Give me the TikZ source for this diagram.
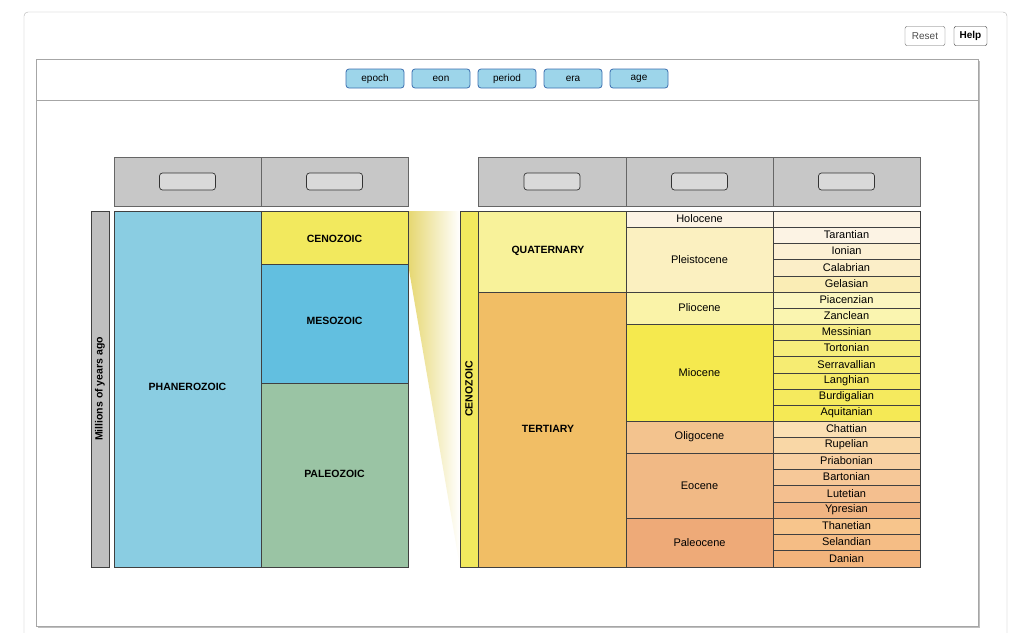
\documentclass[tikz,border=0pt]{standalone}
\usepackage{fontspec}
\setmainfont{Liberation Sans}
\definecolor{btnf}{HTML}{9DD5EA}\definecolor{btnd}{HTML}{3C6FB0}
\definecolor{cen}{HTML}{F2E95E}\definecolor{mes}{HTML}{62BFE0}\definecolor{pal}{HTML}{9AC4A4}\definecolor{pha}{HTML}{8ACDE2}
\definecolor{fun}{HTML}{E6D770}
\begin{document}
\begin{tikzpicture}[x=1pt,y=-1pt,
  cell/.style={draw=black!75,line width=0.8pt},
  lab/.style={font=\fontsize{10.5}{12}\selectfont\bfseries},
  txt/.style={font=\fontsize{11}{12}\selectfont},
  btn/.style={draw=btnd,fill=btnf,line width=0.8pt,rounded corners=3pt,minimum width=58pt,minimum height=19pt,font=\fontsize{10}{12}\selectfont,inner sep=0},
  hdr/.style={draw=black!60,fill=black!22,line width=0.8pt},
  slot/.style={draw=black!80,fill=black!15,line width=0.7pt,rounded corners=3pt,minimum width=56pt,minimum height=17pt,inner sep=0}]
\useasboundingbox (0,0) rectangle (1024,632);
\draw[black!30,rounded corners=4pt] (24,12) rectangle (1007,640);
\fill[black!25] (38,61) rectangle (980,628);
\draw[black!35,fill=white] (36,59) rectangle (978,626);
\draw[black!35] (36,100) -- (978,100);
\node[draw=black!60,rounded corners=2pt,minimum width=40pt,minimum height=19pt,inner sep=0,font=\fontsize{10}{12}\selectfont,text=black!70] (reset) at (925,36) {Reset};
\node[draw=black!80,rounded corners=2pt,minimum width=33pt,minimum height=19pt,inner sep=0,font=\fontsize{10}{12}\selectfont\bfseries] (help) at (970.5,36) {Help};
\node[btn] (b1) at (375,78.5) {epoch};
\node[btn] (b2) at (441,78.5) {eon};
\node[btn] (b3) at (507,78.5) {period};
\node[btn] (b4) at (573,78.5) {era};
\node[btn] (b5) at (639,78.5) {age};
\foreach \a/\b/\n in {114/261/h1,261/408/h2,478/626/h3,626/773/h4,773/920/h5}{
  \draw[hdr] (\a,157) rectangle (\b,206);
  \node[slot] (\n) at ({(\a+\b)/2},181.5) {};
}
\shade[left color=fun,right color=white,shading angle=90] (408,211) -- (460,211) -- (460,567) -- (408,264) -- cycle;
\draw[cell,fill=black!25] (91,211) rectangle (109,567);
\node[lab,rotate=90] (my) at (100,389) {Millions of years ago};
\draw[cell,fill=pha] (114,211) rectangle (261,567);
\node[lab] (ph) at (187.5,387) {PHANEROZOIC};
\draw[cell,fill=cen] (261,211) rectangle (408,264); \node[lab] (ce) at (334.5,239) {CENOZOIC};
\draw[cell,fill=mes] (261,264) rectangle (408,383); \node[lab] (me) at (334.5,321) {MESOZOIC};
\draw[cell,fill=pal] (261,383) rectangle (408,567); \node[lab] (pa) at (334.5,474) {PALEOZOIC};
\draw[cell,fill=cen] (460,211) rectangle (478,567);
\node[lab,rotate=90] (cz) at (469,389) {CENOZOIC};
\draw[cell,fill={rgb,255:red,248;green,242;blue,154}] (478,211) rectangle (626,292); \node[lab] (q) at (548,251) {QUATERNARY};
\draw[cell,fill={rgb,255:red,241;green,190;blue,101}] (478,292) rectangle (626,567); \node[lab] (t) at (548,429) {TERTIARY};
\foreach \t/\b/\c/\n in {211/227/FCF3E4/Holocene,227/292/FBF0C0/Pleistocene,292/324/FAF3A8/Pliocene,324/421/F5E94E/Miocene,421/453/F3C38E/Oligocene,453/518/F1B985/Eocene,518/567/EEAA78/Paleocene}{
  \definecolor{tmp}{HTML}{\c}
  \draw[cell,fill=tmp] (626,\t) rectangle (773,\b);
  \node[txt] at (699.5,{(\t+\b)/2}) {\n};
}
\foreach \t/\b/\c/\n in {211/227/FCF3E4/{},227/243/FCF3E4/Tarantian,243/259/FCF0D4/Ionian,259/276/FBEEC8/Calabrian,276/292/FAEDB5/Gelasian,292/308/FBF6C0/Piacenzian,308/324/FAF5B0/Zanclean,324/340/F7EE85/Messinian,340/356/F7EE7C/Tortonian,356/373/F6EC72/Serravallian,373/389/F6EB68/Langhian,389/405/F5EA5E/Burdigalian,405/421/F5E955/Aquitanian,421/437/FBE0B4/Chattian,437/453/F9D7A6/Rupelian,453/469/F8D0A2/Priabonian,469/485/F6C898/Bartonian,485/502/F4BF8F/Lutetian,502/518/F1B482/Ypresian,518/534/F7C58C/Thanetian,534/550/F5BD85/Selandian,550/567/F3B47C/Danian}{
  \definecolor{tmp}{HTML}{\c}
  \draw[cell,fill=tmp] (773,\t) rectangle (920,\b);
  \node[txt] at (846.5,{(\t+\b)/2}) {\n};
}
\end{tikzpicture}
\end{document}
